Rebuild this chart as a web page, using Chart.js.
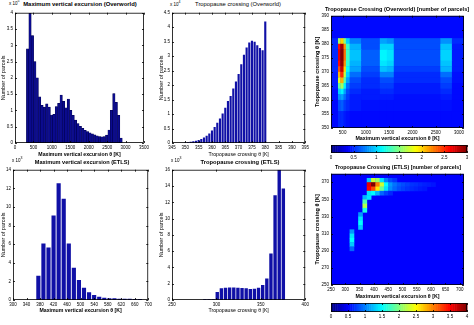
<!DOCTYPE html>
<html>
<head>
<meta charset="utf-8">
<script src="https://cdn.jsdelivr.net/npm/chart.js@4.4.1/dist/chart.umd.min.js"></script>
<style>
body { margin: 0; background: #fff; width: 474px; height: 325px; overflow: hidden; position: relative; font-family: "Liberation Sans", Arial, sans-serif; }
canvas { position: absolute; }
.t { position: absolute; white-space: nowrap; color: #000; transform: translateX(-50%); line-height: 1; z-index: 2; }
.b { font-weight: bold; }
.e { position: absolute; font-size: 4.5px; line-height: 1; white-space: nowrap; }
.e sup { font-size: 3.5px; }
</style>
</head>
<body>
<canvas id="owExc" width="151" height="150" style="left:0;top:8px"></canvas>
<canvas id="owTrop" width="153" height="150" style="left:158px;top:8px"></canvas>
<canvas id="owHeat" width="156" height="131" style="left:314px;top:11px"></canvas>
<canvas id="owBar" width="146" height="19" style="left:326px;top:143px"></canvas>
<canvas id="etExc" width="154" height="149" style="left:0;top:165px"></canvas>
<canvas id="etTrop" width="153" height="149" style="left:158px;top:165px"></canvas>
<canvas id="etHeat" width="156" height="131" style="left:314px;top:169px"></canvas>
<canvas id="etBar" width="146" height="20" style="left:326px;top:301px"></canvas>

<div class="t b" style="left:80px;top:2px;font-size:5.9px">Maximum vertical excursion (Overworld)</div>
<div class="t" style="left:238px;top:2px;font-size:5.8px">Tropopause crossing (Overworld)</div>
<div class="t b" style="left:397px;top:7px;font-size:5.6px">Tropopause Crossing (Overworld) [number of parcels]</div>
<div class="t b" style="left:82px;top:160px;font-size:5.6px">Maximum vertical excursion (ETLS)</div>
<div class="t b" style="left:240px;top:160px;font-size:5.8px">Tropopause crossing (ETLS)</div>
<div class="t b" style="left:398px;top:165px;font-size:5.4px">Tropopause Crossing (ETLS) [number of parcels]</div>

<div class="e" style="left:9px;top:0">x 10<sup>5</sup></div>
<div class="e" style="left:170px;top:1px">x 10<sup>4</sup></div>
<div class="e" style="left:12px;top:157px">x 10<sup>3</sup></div>
<div class="e" style="left:171px;top:157px">x 10<sup>3</sup></div>

<script>
// Overworld: maximum vertical excursion (bin centres in K, counts x 1e5)
const owExcX = [342.5, 407.5, 472.5, 537.5, 602.5, 667.5, 732.5, 797.5, 862.5, 927.5,
    992.5, 1057.5, 1122.5, 1187.5, 1252.5, 1317.5, 1382.5, 1447.5, 1512.5, 1577.5,
    1642.5, 1707.5, 1772.5, 1837.5, 1902.5, 1967.5, 2032.5, 2097.5, 2162.5, 2227.5,
    2292.5, 2357.5, 2422.5, 2487.5, 2552.5, 2617.5, 2682.5, 2747.5, 2812.5, 2877.5];
const owExcN = [2.89, 3.98, 3.3, 2.5, 2.0, 1.42, 1.16, 1.1, 1.2, 1.1,
    0.86, 0.88, 1.12, 1.22, 1.47, 1.28, 1.08, 1.35, 1.0, 0.85,
    0.7, 0.6, 0.51, 0.45, 0.39, 0.35, 0.31, 0.28, 0.25, 0.22,
    0.2, 0.19, 0.2, 0.24, 0.4, 1.0, 1.52, 1.25, 0.85, 0.15];
const owExcTicks = [0, 500, 1000, 1500, 2000, 2500, 3000, 3500];
const owExcYTicks = [0, 0.5, 1, 1.5, 2, 2.5, 3, 3.5, 4];

// Overworld: tropopause crossing (K, counts x 1e4)
const owTropX = [350, 351, 352, 353, 354, 355, 356, 357, 358, 359, 360, 361, 362, 363, 364, 365,
    366, 367, 368, 369, 370, 371, 372, 373, 374, 375, 376, 377, 378, 379, 380];
const owTropN = [0.02, 0.03, 0.04, 0.06, 0.08, 0.1, 0.14, 0.19, 0.25, 0.33, 0.43, 0.55, 0.7, 0.85, 1.02, 1.22,
    1.45, 1.62, 1.88, 2.12, 2.38, 2.72, 3.05, 3.3, 3.47, 3.53, 3.5, 3.38, 3.28, 3.2, 4.2];
const owTropTicks = [345, 350, 355, 360, 365, 370, 375, 380, 385, 390, 395];
const owTropYTicks = [0, 0.5, 1, 1.5, 2, 2.5, 3, 3.5, 4, 4.5];

// Overworld heat map: column / row edges (K) and cell values (colour scale 0..3)
const owXEdges = [250, 400, 450, 520, 570, 650, 900, 1300, 1450, 1600, 2600, 2850, 3110];
const owYEdges = [382, 380, 378, 376, 374, 372, 370, 368, 366, 364, 362, 360, 356, 350];
const owGrid = [
    [0.5, 1.6, 2.0, 1.5, 1.0, 0.75, 0.6, 0.85, 0.8, 0.6, 0.8, 0.5],
    [0.5, 2.6, 2.9, 2.2, 1.3, 0.9, 0.6, 1.0, 1.0, 0.6, 0.95, 0.45],
    [0.5, 2.7, 3.0, 2.3, 1.3, 0.95, 0.65, 1.1, 1.05, 0.6, 1.0, 0.45],
    [0.5, 2.7, 3.0, 2.3, 1.3, 0.95, 0.65, 1.1, 1.05, 0.6, 1.0, 0.45],
    [0.5, 2.6, 2.95, 2.2, 1.25, 0.9, 0.65, 1.05, 1.0, 0.6, 0.95, 0.45],
    [0.5, 2.4, 2.8, 2.0, 1.15, 0.85, 0.6, 0.95, 0.9, 0.55, 0.9, 0.45],
    [0.45, 2.1, 2.5, 1.7, 1.0, 0.7, 0.55, 0.75, 0.75, 0.5, 0.7, 0.42],
    [0.45, 1.8, 2.1, 1.4, 0.85, 0.6, 0.5, 0.6, 0.6, 0.5, 0.6, 0.42],
    [0.45, 1.4, 1.6, 1.1, 0.7, 0.55, 0.5, 0.55, 0.55, 0.45, 0.55, 0.4],
    [0.42, 1.0, 1.1, 0.85, 0.6, 0.5, 0.45, 0.5, 0.5, 0.45, 0.5, 0.4],
    [0.42, 0.8, 0.85, 0.7, 0.55, 0.45, 0.45, 0.45, 0.45, 0.42, 0.45, 0.4],
    [0.4, 0.6, 0.65, 0.55, 0.5, 0.45, 0.42, 0.42, 0.42, 0.42, 0.42, 0.4],
    [0.4, 0.5, 0.5, 0.45, 0.42, 0.4, 0.4, 0.4, 0.4, 0.4, 0.4, 0.4]
];
const owHeatBase = 0.4;
const owHeatXTicks = [500, 1000, 1500, 2000, 2500, 3000];
const owHeatYTicks = [350, 355, 360, 365, 370, 375, 380, 385, 390];
const owBarTicks = [0, 0.5, 1, 1.5, 2, 2.5, 3];

// ETLS: maximum vertical excursion (K, counts x 1e3)
const etExcX = [375, 390, 405, 420, 435, 450, 465, 480, 495, 510, 525, 540, 555, 570, 585, 600, 615, 630, 645, 660, 675];
const etExcN = [2.6, 6.06, 5.63, 9.08, 12.54, 10.87, 6.06, 3.46, 2.14, 1.32, 0.82, 0.53, 0.36, 0.25, 0.18, 0.18, 0.14, 0.14, 0.14, 0.11, 0.11];
const etExcTicks = [300, 340, 380, 420, 460, 500, 540, 580, 620, 660, 700];
const etExcYTicks = [0, 2, 4, 6, 8, 10, 12, 14];

// ETLS: tropopause crossing (K, counts x 1e3)
const etTropX = [287, 291.65, 296.3, 300.95, 305.6, 310.25, 314.9, 319.55, 324.2, 328.85,
    333.5, 338.15, 342.8, 347.45, 352.1, 356.75, 361.4, 366.05, 370.7, 375.35];
const etTropN = [0.08, 0.08, 0.1, 0.98, 1.43, 1.5, 1.55, 1.55, 1.5, 1.47,
    1.43, 1.35, 1.39, 1.5, 1.84, 2.65, 5.7, 12.85, 16, 13.7];
const etTropTicks = [250, 300, 350, 400];
const etTropYTicks = [0, 2, 4, 6, 8, 10, 12, 14, 16];

// ETLS heat map: cell centres (K) and values (colour scale 0..4)
const etCellX = [382.5, 397.5, 412.5, 427.5, 442.5, 457.5, 472.5,
    382.5, 397.5, 412.5, 427.5, 442.5, 457.5, 472.5, 487.5, 502.5, 517.5, 532.5, 547.5, 562.5, 577.5, 592.5, 607.5,
    382.5, 397.5, 412.5, 427.5, 442.5, 457.5, 472.5, 487.5, 502.5, 517.5, 532.5, 547.5, 562.5, 577.5,
    382.5, 397.5, 412.5, 427.5, 442.5, 457.5,
    367.5, 382.5, 367.5, 367.5, 367.5,
    352.5, 352.5, 352.5, 352.5,
    322.5, 322.5, 322.5, 322.5, 322.5];
const etCellY = [372.5, 372.5, 372.5, 372.5, 372.5, 372.5, 372.5,
    367.5, 367.5, 367.5, 367.5, 367.5, 367.5, 367.5, 367.5, 367.5, 367.5, 367.5, 367.5, 367.5, 367.5, 367.5, 367.5,
    362.5, 362.5, 362.5, 362.5, 362.5, 362.5, 362.5, 362.5, 362.5, 362.5, 362.5, 362.5, 362.5, 362.5,
    357.5, 357.5, 357.5, 357.5, 357.5, 357.5,
    352.5, 352.5, 347.5, 342.5, 337.5,
    332.5, 327.5, 322.5, 317.5,
    312.5, 307.5, 302.5, 297.5, 292.5];
const etCellV = [1.3, 2.3, 2.1, 1.4, 1.0, 0.8, 0.7,
    3.6, 4.0, 3.0, 2.3, 1.5, 1.1, 0.95, 0.85, 0.8, 0.75, 0.7, 0.68, 0.65, 0.62, 0.6, 0.58,
    3.5, 3.2, 2.6, 1.9, 1.4, 1.05, 0.9, 0.8, 0.75, 0.7, 0.66, 0.63, 0.6, 0.58,
    1.4, 1.5, 1.2, 0.9, 0.75, 0.65,
    1.2, 1.4, 1.8, 2.2, 1.6,
    1.1, 1.4, 1.5, 1.3,
    1.1, 1.4, 1.5, 1.3, 0.9];
const etCellW = 15;
const etCellH = 5;
const etHeatBase = 0.5;
const etHeatXTicks = [250, 300, 350, 400, 450, 500, 550, 600, 650, 700];
const etHeatYTicks = [250, 270, 290, 310, 330, 350, 370];
const etBarTicks = [0, 0.5, 1, 1.5, 2, 2.5, 3, 3.5, 4];

const FONT = '"Liberation Sans", Arial, sans-serif';
const BAR_BLUE = '#1010a6';

function jet(t) {
    t = Math.max(0, Math.min(1, t));
    const f = v => Math.round(255 * Math.max(0, Math.min(1, v)));
    return `rgb(${f(1.5 - Math.abs(4 * t - 3))},${f(1.5 - Math.abs(4 * t - 2))},${f(1.5 - Math.abs(4 * t - 1))})`;
}

function ax(pos, min, max, ticks, title, fit, tsize, bold) {
    return {
        type: 'linear', position: pos, min, max, offset: false,
        afterBuildTicks: s => { s.ticks = ticks.map(v => ({ value: v })); },
        afterFit: s => { if (pos === 'bottom') s.height = fit; else s.width = fit; },
        grid: { display: false, drawTicks: false },
        border: { display: false },
        ticks: {
            color: '#000', padding: 2, autoSkip: false, maxRotation: 0,
            font: { size: 4.5, family: FONT },
            callback: v => String(v)
        },
        title: {
            display: !!title, text: title, color: '#000', padding: 0,
            font: { size: tsize || 5.5, family: FONT, weight: bold ? 'bold' : 'normal' }
        }
    };
}

// box round the plot area plus small inward ticks, matlab style
const frame = {
    id: 'frame',
    afterDatasetsDraw(chart) {
        const { ctx, chartArea: a, scales } = chart;
        ctx.save();
        ctx.strokeStyle = '#000';
        ctx.lineWidth = 0.8;
        ctx.strokeRect(a.left + 0.5, a.top + 0.5, a.width - 1, a.height - 1);
        ctx.beginPath();
        ['x', 'y'].forEach(k => {
            const s = scales[k];
            if (!s.options.display) return;
            s.ticks.forEach(t => {
                const p = Math.round(s.getPixelForValue(t.value)) + 0.5;
                if (k === 'x') {
                    ctx.moveTo(p, a.bottom); ctx.lineTo(p, a.bottom - 2);
                    ctx.moveTo(p, a.top); ctx.lineTo(p, a.top + 2);
                } else {
                    ctx.moveTo(a.left, p); ctx.lineTo(a.left + 2, p);
                    ctx.moveTo(a.right, p); ctx.lineTo(a.right - 2, p);
                }
            });
        });
        ctx.stroke();
        ctx.restore();
    }
};

const heat = {
    id: 'heat',
    beforeDatasetsDraw(chart, args, opts) {
        const { ctx, chartArea: a, scales: { x, y } } = chart;
        ctx.save();
        ctx.beginPath();
        ctx.rect(a.left, a.top, a.width, a.height);
        ctx.clip();
        ctx.fillStyle = jet(opts.base / opts.vmax);
        ctx.fillRect(a.left, a.top, a.width, a.height);
        chart.data.datasets[0].data.forEach(d => {
            const x0 = x.getPixelForValue(d.x0), x1 = x.getPixelForValue(d.x1);
            const y0 = y.getPixelForValue(d.y0), y1 = y.getPixelForValue(d.y1);
            ctx.fillStyle = jet(d.v / opts.vmax);
            ctx.fillRect(Math.min(x0, x1), Math.min(y0, y1), Math.abs(x1 - x0) + 0.4, Math.abs(y1 - y0) + 0.4);
        });
        ctx.restore();
    }
};

const cbar = {
    id: 'cbar',
    beforeDatasetsDraw(chart, args, opts) {
        const { ctx, chartArea: a, scales: { x } } = chart;
        const n = 64;
        for (let i = 0; i < n; i++) {
            const p0 = x.getPixelForValue(opts.vmax * i / n);
            const p1 = x.getPixelForValue(opts.vmax * (i + 1) / n);
            ctx.fillStyle = jet((i + 0.5) / n);
            ctx.fillRect(p0, a.top, p1 - p0 + 0.5, a.height);
        }
    }
};

function base(pad, scales) {
    return {
        responsive: false,
        animation: false,
        layout: { padding: pad },
        plugins: { legend: { display: false }, tooltip: { enabled: false } },
        scales
    };
}

function hist(id, xs, ys, o) {
    new Chart(document.getElementById(id), {
        type: 'bar',
        data: {
            datasets: [{
                data: xs.map((x, i) => ({ x, y: ys[i] })),
                backgroundColor: o.color,
                borderColor: o.edge || o.color,
                borderWidth: o.bw || 0,
                barPercentage: o.bp,
                categoryPercentage: 1
            }]
        },
        options: base({ top: 4, right: 4, left: 0, bottom: 0 }, {
            x: ax('bottom', o.xmin, o.xmax, o.xt, o.xlabel, o.xh, 5.2, o.xb),
            y: ax('left', 0, o.ymax, o.yt, 'Number of parcels', o.yw, 5.5, false)
        }),
        plugins: [frame]
    });
}

hist('owExc', owExcX, owExcN, {
    color: '#0b0b8e', edge: '#00004a', bw: 0.5, bp: 1,
    xmin: 0, xmax: 3500, xt: owExcTicks, ymax: 4, yt: owExcYTicks,
    xlabel: 'Maximum vertical excursion θ [K]', xh: 15, xb: true, yw: 15
});
hist('owTrop', owTropX, owTropN, {
    color: BAR_BLUE, bp: 0.8,
    xmin: 345, xmax: 395, xt: owTropTicks, ymax: 4.5, yt: owTropYTicks,
    xlabel: 'Tropopause crossing θ [K]', xh: 15, xb: false, yw: 14
});
hist('etExc', etExcX, etExcN, {
    color: BAR_BLUE, bp: 0.82,
    xmin: 300, xmax: 700, xt: etExcTicks, ymax: 14, yt: etExcYTicks,
    xlabel: 'Maximum vertical excursion θ [K]', xh: 14, xb: true, yw: 13
});
hist('etTrop', etTropX, etTropN, {
    color: BAR_BLUE, bp: 0.82,
    xmin: 250, xmax: 400, xt: etTropTicks, ymax: 16, yt: etTropYTicks,
    xlabel: 'Tropopause crossing θ [K]', xh: 14, xb: false, yw: 14
});

const owCells = [];
owGrid.forEach((row, r) => row.forEach((v, c) => {
    owCells.push({
        x: (owXEdges[c] + owXEdges[c + 1]) / 2, y: (owYEdges[r] + owYEdges[r + 1]) / 2,
        x0: owXEdges[c], x1: owXEdges[c + 1], y0: owYEdges[r + 1], y1: owYEdges[r], v
    });
}));
const etCells = etCellX.map((cx, i) => ({
    x: cx, y: etCellY[i],
    x0: cx - etCellW / 2, x1: cx + etCellW / 2,
    y0: etCellY[i] - etCellH / 2, y1: etCellY[i] + etCellH / 2, v: etCellV[i]
}));

function heatChart(id, cells, o) {
    const opts = base({ top: 4, right: 6, left: 0, bottom: 0 }, {
        x: ax('bottom', o.xmin, o.xmax, o.xt, 'Maximum vertical excursion θ [K]', o.xh, 5.3, true),
        y: ax('left', o.ymin, o.ymax, o.yt, 'Tropopause crossing θ [K]', 17, 5.6, true)
    });
    opts.plugins.heat = { base: o.base, vmax: o.vmax };
    new Chart(document.getElementById(id), {
        type: 'scatter',
        data: { datasets: [{ data: cells, pointRadius: 0 }] },
        options: opts,
        plugins: [heat, frame]
    });
}

heatChart('owHeat', owCells, {
    xmin: 250, xmax: 3110, xt: owHeatXTicks, ymin: 350, ymax: 390, yt: owHeatYTicks,
    xh: 14, base: owHeatBase, vmax: 3
});
heatChart('etHeat', etCells, {
    xmin: 250, xmax: 715, xt: etHeatXTicks, ymin: 250, ymax: 380, yt: etHeatYTicks,
    xh: 15, base: etHeatBase, vmax: 4
});

function colorbar(id, vmax, ticks) {
    const opts = base({ top: 2, right: 5, left: 5, bottom: 0 }, {
        x: ax('bottom', 0, vmax, ticks, '', 9),
        y: { display: false, min: 0, max: 1 }
    });
    opts.plugins.cbar = { vmax };
    new Chart(document.getElementById(id), {
        type: 'scatter',
        data: { datasets: [{ data: [] }] },
        options: opts,
        plugins: [cbar, frame]
    });
}

colorbar('owBar', 3, owBarTicks);
colorbar('etBar', 4, etBarTicks);
</script>
</body>
</html>
